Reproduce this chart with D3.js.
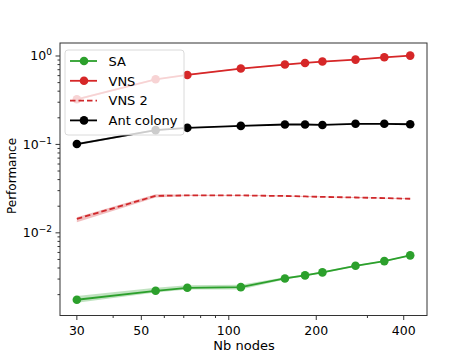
<!DOCTYPE html>
<html><head><meta charset="utf-8">
<script src="https://cdn.jsdelivr.net/npm/d3@7"></script>
<style>body{margin:0;background:#fff}svg{display:block}text{font-family:"DejaVu Sans",sans-serif}</style>
</head><body>
<script>
const nodes = [30, 56, 72, 110, 156, 183, 210, 273, 343, 421];
const saMean = [0.00175, 0.00221, 0.00239, 0.00243, 0.00305, 0.00330, 0.00357, 0.00424, 0.00479, 0.00556];
const saLow  = [0.00162, 0.00212, 0.00228, 0.00229, 0.00296, 0.00322, 0.00349, 0.00415, 0.00470, 0.00546];
const saHigh = [0.00193, 0.00239, 0.00255, 0.00259, 0.00314, 0.00338, 0.00365, 0.00433, 0.00488, 0.00566];
const vnsMean = [0.324, 0.545, 0.610, 0.721, 0.800, 0.834, 0.865, 0.910, 0.967, 1.010];
const vnsLow  = [0.316, 0.535, 0.600, 0.712, 0.792, 0.826, 0.857, 0.902, 0.959, 1.000];
const vnsHigh = [0.332, 0.555, 0.620, 0.730, 0.808, 0.842, 0.873, 0.918, 0.975, 1.020];
const vns2Mean = [0.0144, 0.0262, 0.0265, 0.0265, 0.0261, 0.0258, 0.0255, 0.0251, 0.0247, 0.0243];
const vns2Low  = [0.0132, 0.0251, 0.0261, 0.0262, 0.0258, 0.0255, 0.0252, 0.0248, 0.0244, 0.0240];
const vns2High = [0.0150, 0.0273, 0.0269, 0.0268, 0.0264, 0.0261, 0.0258, 0.0254, 0.0250, 0.0246];
const antMean = [0.101, 0.145, 0.154, 0.162, 0.168, 0.168, 0.166, 0.171, 0.171, 0.169];
const antLow  = [0.098, 0.142, 0.152, 0.160, 0.166, 0.166, 0.164, 0.169, 0.169, 0.167];
const antHigh = [0.104, 0.148, 0.156, 0.164, 0.170, 0.170, 0.168, 0.173, 0.173, 0.171];
const xTicks = [30, 50, 100, 200, 400];
const xMinor = [40, 60, 70, 80, 90, 300];
const yTicks = [0.01, 0.1, 1];
const yTickExp = ["\u22122", "\u22121", "0"];

const W = 474, H = 355;
const L = 60, R = 427, T = 43, B = 315.5;
const svg = d3.select("body").append("svg").attr("width", W).attr("height", H);
const x = d3.scaleLog().domain([26.25, 481]).range([L, R]);
const y = d3.scaleLog().domain([Math.pow(10, -2.935), Math.pow(10, 0.147)]).range([B, T]);

const series = [
  {name: "SA", mean: saMean, low: saLow, high: saHigh, color: "#2ca02c", dash: null, marker: true},
  {name: "VNS", mean: vnsMean, low: vnsLow, high: vnsHigh, color: "#d62728", dash: null, marker: true},
  {name: "VNS 2", mean: vns2Mean, low: vns2Low, high: vns2High, color: "#d0282b", dash: "5.5,3", marker: false},
  {name: "Ant colony", mean: antMean, low: antLow, high: antHigh, color: "#000000", dash: null, marker: true}
];

const g = svg.append("g");
const area = d3.area().x((d, i) => x(nodes[i])).y0(d => y(d[0])).y1(d => y(d[1]));
const line = d3.line().x((d, i) => x(nodes[i])).y(d => y(d));

series.forEach(s => {
  g.append("path").datum(s.low.map((v, i) => [v, s.high[i]]))
    .attr("d", area).attr("fill", s.color).attr("fill-opacity", 0.3).attr("stroke", "none");
});
series.forEach(s => {
  g.append("path").datum(s.mean).attr("d", line).attr("fill", "none")
    .attr("stroke", s.color).attr("stroke-width", 1.8)
    .attr("stroke-dasharray", s.dash);
  if (s.marker) {
    g.selectAll(null).data(s.mean).enter().append("circle")
      .attr("cx", (d, i) => x(nodes[i])).attr("cy", d => y(d)).attr("r", 4.3)
      .attr("fill", s.color);
  }
});

// axes frame
const axColor = "#333";
svg.append("rect").attr("x", L).attr("y", T).attr("width", R - L).attr("height", B - T)
  .attr("fill", "none").attr("stroke", axColor).attr("stroke-width", 1);

// x ticks
const xAxis = svg.append("g");
xTicks.forEach(t => {
  xAxis.append("line").attr("x1", x(t)).attr("x2", x(t)).attr("y1", B).attr("y2", B + 4.5).attr("stroke", axColor);
  xAxis.append("text").attr("x", x(t)).attr("y", B + 19).attr("text-anchor", "middle")
    .attr("font-size", 12.5).attr("fill", "#000").text(t);
});
xMinor.forEach(t => {
  xAxis.append("line").attr("x1", x(t)).attr("x2", x(t)).attr("y1", B).attr("y2", B + 2.5).attr("stroke", axColor);
});
// y ticks
const yAxis = svg.append("g");
yTicks.forEach((t, i) => {
  yAxis.append("line").attr("x1", L - 4.5).attr("x2", L).attr("y1", y(t)).attr("y2", y(t)).attr("stroke", axColor);
  const tx = yAxis.append("text").attr("x", L - 8).attr("y", y(t) + 4.5).attr("text-anchor", "end")
    .attr("font-size", 12.5).attr("fill", "#000");
  tx.append("tspan").text("10");
  tx.append("tspan").attr("dy", -5).attr("font-size", 9).text(yTickExp[i]);
});
const [d0, d1] = y.domain();
for (let e = -3; e <= 0; e++) {
  for (let m = 2; m <= 9; m++) {
    const v = m * Math.pow(10, e);
    if (v < d0 || v > d1) continue;
    yAxis.append("line").attr("x1", L - 2.5).attr("x2", L).attr("y1", y(v)).attr("y2", y(v)).attr("stroke", axColor);
  }
}

svg.append("text").attr("x", (L + R) / 2 + 0.5).attr("y", 350).attr("text-anchor", "middle")
  .attr("font-size", 13).text("Nb nodes");
svg.append("text").attr("transform", `translate(15.5,176) rotate(-90)`).attr("text-anchor", "middle")
  .attr("font-size", 12).text("Performance");

// legend
const leg = svg.append("g");
leg.append("rect").attr("x", 65).attr("y", 50).attr("width", 119).attr("height", 85).attr("rx", 3)
  .attr("fill", "#fff").attr("fill-opacity", 0.8).attr("stroke", "#d0d0d0").attr("stroke-width", 0.8);
series.forEach((s, i) => {
  const yy = 61 + i * 19.8;
  leg.append("line").attr("x1", 70).attr("x2", 97).attr("y1", yy).attr("y2", yy)
    .attr("stroke", s.color).attr("stroke-width", 1.8).attr("stroke-dasharray", s.dash);
  if (s.marker) leg.append("circle").attr("cx", 84).attr("cy", yy).attr("r", 4.3).attr("fill", s.color);
  leg.append("text").attr("x", 108.5).attr("y", yy + 4.7).attr("font-size", 13).text(s.name);
});
</script>
</body></html>
